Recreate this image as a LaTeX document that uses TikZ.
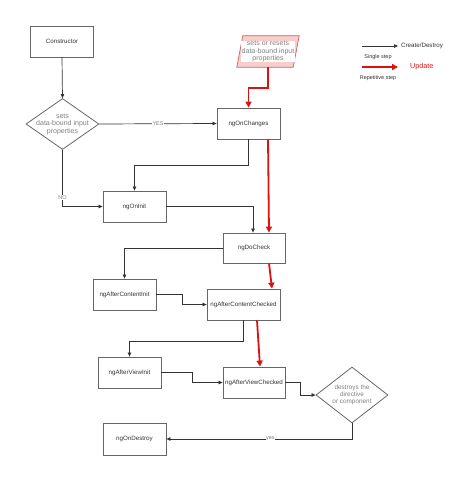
\documentclass[tikz,border=0pt]{standalone}
\usepackage{fontspec}
\setmainfont{Liberation Sans}
\usetikzlibrary{arrows.meta,shapes.geometric}
\definecolor{boxline}{HTML}{666666}
\definecolor{boxtext}{HTML}{333333}
\definecolor{softtext}{HTML}{808080}
\definecolor{hookred}{HTML}{DD1111}
\definecolor{inputfill}{HTML}{F8CECC}
\definecolor{inputline}{HTML}{D06060}
\begin{document}
\begin{tikzpicture}[x=1pt,y=-1pt,
                hook/.style={draw=boxline, line width=0.8pt, rectangle, minimum width=63pt, minimum height=31pt, inner sep=0pt, text=boxtext, font=\fontsize{6.2}{7}\selectfont},
                decision/.style={draw=boxline, line width=0.8pt, diamond, inner sep=0pt},
                softlabel/.style={text=softtext, align=center, inner sep=0pt, font=\fontsize{7}{7.5}\selectfont},
                edgelabel/.style={fill=white, text=softtext, inner sep=0.5pt, font=\fontsize{5.5}{6}\selectfont},
                single/.style={draw=black!80, line width=0.7pt, -{Triangle[length=4pt,width=3.5pt]}},
                repeated/.style={draw=hookred, line width=1.8pt, -{Triangle[length=6pt,width=6pt]}}]

                \useasboundingbox (0,0) rectangle (474,481);

                \node[hook] (constructor) at (62,41.5) {Constructor};
                \node[decision, minimum width=73pt, minimum height=51pt] (setsinput) at (62.5,124) {};
                \node[softlabel] at (setsinput) {sets\\data-bound input\\properties};
                \node[minimum width=56pt, minimum height=31pt, inner sep=0pt] (resetinput) at (268,51.5) {};
                \draw[draw=inputline, fill=inputfill, line width=0.7pt] ([xshift=3pt]resetinput.north west) -- ([xshift=3pt]resetinput.north east) -- ([xshift=-3pt]resetinput.south east) -- ([xshift=-3pt]resetinput.south west) -- cycle;
                \node[softlabel, fill=white, inner sep=0.3pt] at (resetinput) {sets or resets\\data-bound input\\properties};

                \node[hook] (onchanges) at (248.5,123.5) {ngOnChanges};
                \node[hook] (oninit) at (134.5,206.5) {ngOnInit};
                \node[hook, minimum width=62pt, minimum height=30pt] (docheck) at (254,248) {ngDoCheck};
                \node[hook] (contentinit) at (124.5,294.5) {ngAfterContentInit};
                \node[hook, minimum width=73pt] (contentchecked) at (243.5,304.5) {ngAfterContentChecked};
                \node[hook] (viewinit) at (129.5,372.5) {ngAfterViewInit};
                \node[hook, minimum width=62pt] (viewchecked) at (254,382.5) {ngAfterViewChecked};
                \node[decision, minimum width=72pt, minimum height=56pt] (destroys) at (352,395) {};
                \node[softlabel, text=softtext, font=\fontsize{6.4}{7.2}\selectfont] at (destroys) {destroys the\\directive\\or component};
                \node[hook, minimum height=32pt] (ondestroy) at (134.5,439) {ngOnDestroy};

                \draw[single] (constructor.south) -- (setsinput.north);
                \draw[single] (setsinput.east) -- node[edgelabel] {YES} (onchanges.west);
                \draw[single] (setsinput.south) |- node[edgelabel, pos=0.42] {NO} (oninit.west);
                \draw[single] (onchanges.south) -- ++(0,26) -| (oninit.north);
                \draw[single] (oninit.east) -| ([xshift=-1pt]docheck.north);
                \draw[single] (docheck.west) -| (contentinit.north);
                \draw[single] (contentinit.east) -- ++(26,0) |- (contentchecked.west);
                \draw[single] (contentchecked.south) -- ++(0,21) -| (viewinit.north);
                \draw[single] (viewinit.east) -- ++(31,0) |- (viewchecked.west);
                \draw[single] (viewchecked.east) -- ++(15,0) |- (destroys.west);
                \draw[single] (destroys.south) |- node[edgelabel, pos=0.72] {yes} (ondestroy.east);

                \draw[repeated] (resetinput.south) -- ++(0,21) -| (onchanges.north);
                \draw[repeated] ([xshift=19.5pt]onchanges.south) -- ([xshift=15pt]docheck.north);
                \draw[repeated] ([xshift=15pt]docheck.south) -- ([xshift=28.5pt]contentchecked.north);
                \draw[repeated] ([xshift=13.5pt]contentchecked.south) -- ([xshift=6pt]viewchecked.north);

                \coordinate (singlestart) at (362,46);
                \coordinate (singleend) at (398,46);
                \coordinate (repeatstart) at (362,67);
                \coordinate (repeatend) at (398,67);
                \draw[single] (singlestart) -- (singleend);
                \draw[repeated] (repeatstart) -- (repeatend);
                \node[anchor=west, inner sep=0pt, text=boxtext, font=\fontsize{6.2}{7}\selectfont] (createdestroy) at (401,46) {Create/Destroy};
                \node[inner sep=0pt, text=boxtext, font=\fontsize{5.5}{6}\selectfont] (singlestep) at (378,57) {Single step};
                \node[anchor=west, inner sep=0pt, text=hookred, font=\fontsize{7.2}{8}\selectfont] (update) at (410,67) {Update};
                \node[inner sep=0pt, text=boxtext, font=\fontsize{5.5}{6}\selectfont] (repetitivestep) at (378,78) {Repetitive step};
            \end{tikzpicture}
\end{document}
